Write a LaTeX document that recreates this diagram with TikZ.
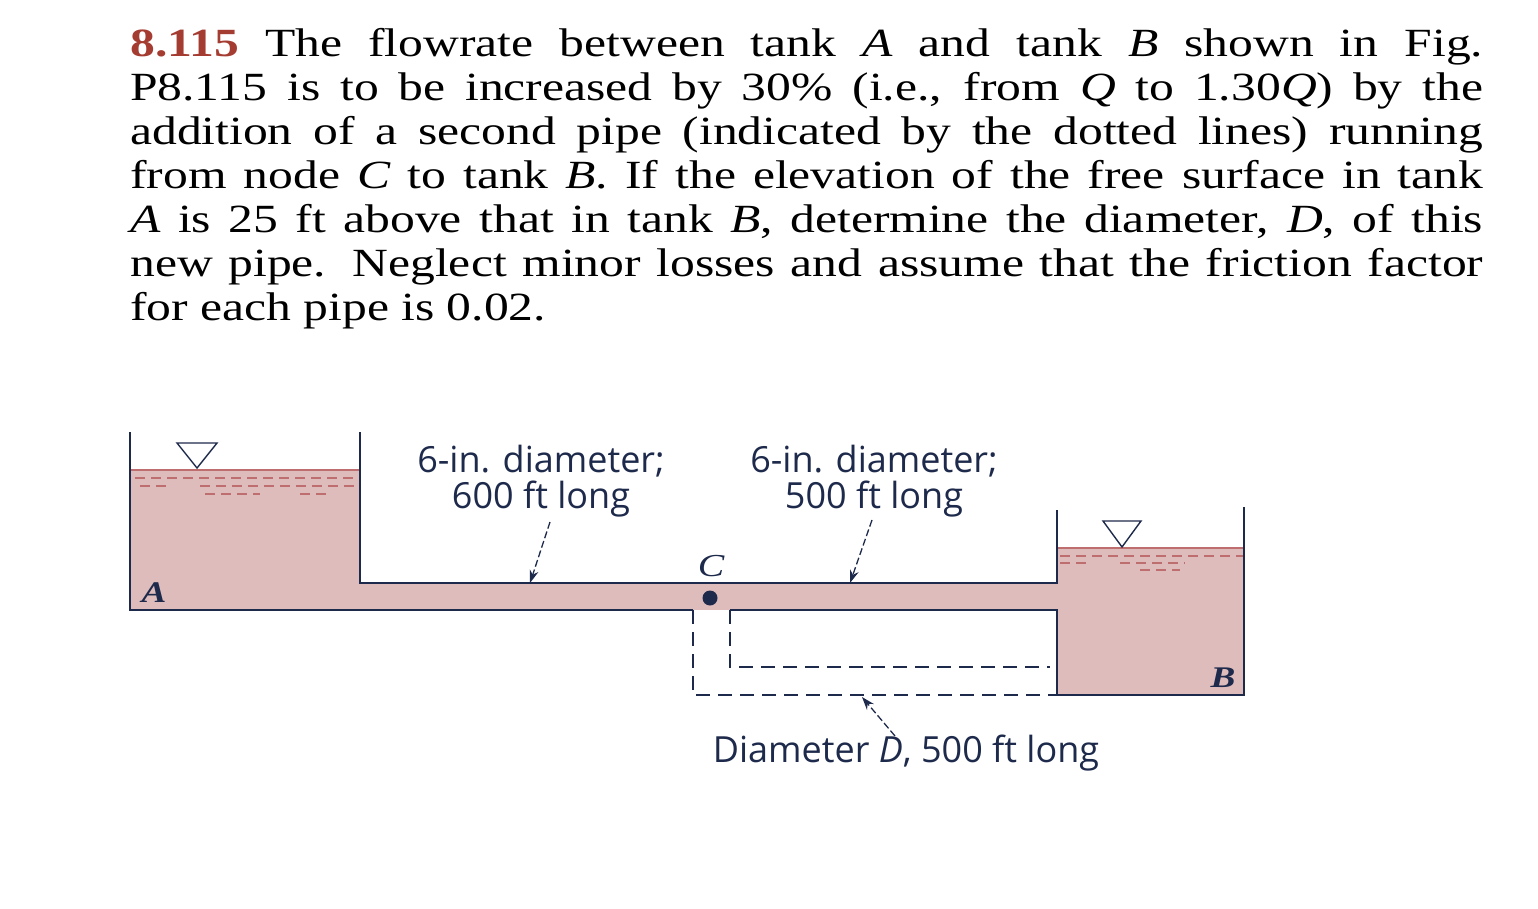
\documentclass[tikz,border=0pt]{standalone}
\usepackage{fontspec}
\setmainfont[FakeStretch=1.24]{Liberation Serif}
\newfontfamily\lab{Open Sans}
\definecolor{water}{RGB}{222,188,188}
\definecolor{ink}{RGB}{30,42,75}
\definecolor{probred}{RGB}{165,60,50}
\definecolor{wline}{RGB}{190,110,110}
\tikzset{wall/.style={draw=ink,line width=1.6pt},
 dsh/.style={draw=ink,line width=1.4pt,dash pattern=on 14pt off 8pt},
 lbl/.style={font=\lab\fontsize{36}{36}\selectfont,text=ink,align=center},
 ptr/.style={draw=ink,line width=1.3pt,dash pattern=on 7pt off 3pt,-{Stealth[length=13pt,width=9pt]}},
 wl/.style={draw=wline,line width=1.2pt,dash pattern=on 10pt off 6pt}}
\usetikzlibrary{arrows.meta}
\newcommand{\fullline}[1]{\makebox[1353pt][s]{#1}}
\begin{document}
\begin{tikzpicture}[x=1pt,y=-1pt]
\useasboundingbox (0,0) rectangle (1538,909);
\node[anchor=north west,align=left,inner sep=0pt,font=\fontsize{40}{44}\selectfont] (txt) at (130,28)
{\fullline{{\color{probred}\textbf{8.115}} The flowrate between tank \textit{A} and tank \textit{B} shown in Fig.}\\
\fullline{P8.115 is to be increased by 30\% (i.e., from \textit{Q} to 1.30\textit{Q}) by the}\\
\fullline{addition of a second pipe (indicated by the dotted lines) running}\\
\fullline{from node \textit{C} to tank \textit{B}. If the elevation of the free surface in tank}\\
\fullline{\textit{A} is 25 ft above that in tank \textit{B}, determine the diameter, \textit{D}, of this}\\
\fullline{new pipe. Neglect minor losses and assume that the friction factor}\\
for each pipe is 0.02.};
% fills
\fill[water] (130,470) rectangle (360,610);
\fill[water] (130,583) rectangle (1057,610);
\fill[water] (1057,548) rectangle (1244,695);
\draw[draw=wline,line width=1.2pt] (130,470) -- (360,470);
\draw[draw=wline,line width=1.2pt] (1057,548) -- (1244,548);
\draw[wl] (135,478) -- (360,478);
\draw[wl] (140,486) -- (170,486) (200,486) -- (360,486);
\draw[wl] (205,494) -- (260,494) (300,494) -- (330,494);
\draw[wl] (1060,556) -- (1244,556);
\draw[wl] (1060,563) -- (1090,563) (1120,563) -- (1185,563);
\draw[wl] (1140,570) -- (1180,570);
% walls
\draw[wall] (130,432) -- (130,610) -- (693,610);
\draw[wall] (360,432) -- (360,583) -- (1057,583) -- (1057,510);
\draw[wall] (730,610) -- (1057,610) -- (1057,695) -- (1244,695) -- (1244,507);
% dashed pipe
\draw[dsh] (693,610) -- (693,695) -- (1057,695);
\draw[dsh] (730,610) -- (730,667) -- (1050,667);
% surface triangles
\draw[ink,line width=1.4pt] (177,443) -- (217,443) -- (197,468) -- cycle;
\draw[ink,line width=1.4pt] (1103,521) -- (1141,521) -- (1122,547) -- cycle;
% node C
\fill[ink] (710,598) circle (7.5);
\node[font=\fontsize{32}{32}\selectfont\itshape,text=ink] (C) at (711,566) {C};
\node[font=\fontsize{30}{30}\selectfont\itshape\bfseries,text=ink] (A) at (154,593) {A};
\node[font=\fontsize{30}{30}\selectfont\itshape\bfseries,text=ink] (B) at (1223,678) {B};
% labels
\node[lbl] (l1) at (541,481) {6-in. diameter;\\600 ft long};
\node[lbl] (l2) at (874,481) {6-in. diameter;\\500 ft long};
\node[lbl] (l3) at (906,753) {Diameter \textit{D}, 500 ft long};
\coordinate (p1) at (530,583);
\coordinate (p2) at (850,583);
\coordinate (p3) at (862,697);
\draw[ptr] (550,522) -- (p1);
\draw[ptr] (872,520) -- (p2);
\draw[ptr] (895,736) -- (p3);
\end{tikzpicture}
\end{document}
